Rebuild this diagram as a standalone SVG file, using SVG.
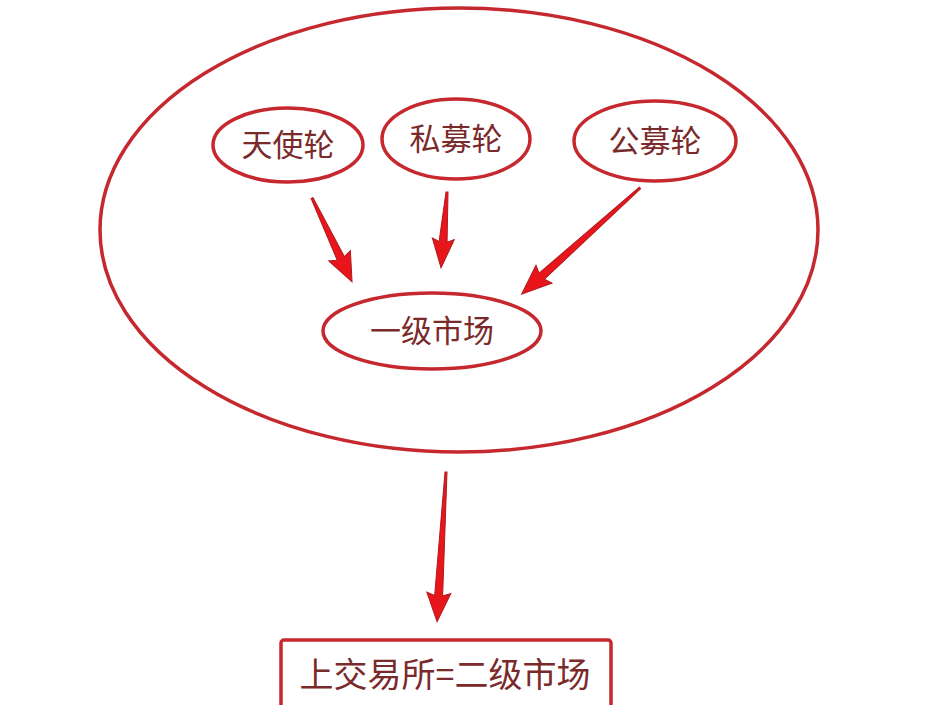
<svg xmlns="http://www.w3.org/2000/svg" width="949" height="705" viewBox="0 0 949 705">
<style>
.ell{fill:none;stroke:#c5282e;stroke-width:3.5}
.t{font-family:"Noto Sans CJK SC","Noto Sans",sans-serif;fill:#7a2a2a;text-anchor:middle}
.arr{fill:#e8151b;stroke:#b01a1e;stroke-width:1}
</style>
<rect width="949" height="705" fill="#ffffff"/>
<g id="outer"><ellipse class="ell" cx="459" cy="230" rx="359" ry="222"/></g>
<g id="n1"><ellipse class="ell" cx="288" cy="145" rx="75" ry="37"/><text class="t" x="288" y="156" font-size="31">天使轮</text></g>
<g id="n2"><ellipse class="ell" cx="456" cy="139" rx="74" ry="40"/><text class="t" x="456" y="150" font-size="31">私募轮</text></g>
<g id="n3"><ellipse class="ell" cx="655" cy="141" rx="81" ry="40"/><text class="t" x="655" y="152" font-size="31">公募轮</text></g>
<g id="n4"><ellipse class="ell" cx="432" cy="331" rx="109" ry="38"/><text class="t" x="432" y="342" font-size="31">一级市场</text></g>
<g id="n5"><rect x="281" y="640" width="330" height="75" rx="3" fill="#fff" stroke="#c5282e" stroke-width="3.5"/><text class="t" x="445" y="687" font-size="34">上交易所=二级市场</text></g>
<g id="connectors">
<path class="arr" transform="translate(312,198) rotate(64.5)" d="M0,-1 L67,-4 L64,-12 L93,0 L64,12 L67,4 L0,1 Z"/>
<path class="arr" transform="translate(447,192) rotate(94.5)" d="M0,-1 L50,-4 L47,-11 L76,0 L47,11 L50,4 L0,1 Z"/>
<path class="arr" transform="translate(640,188) rotate(138.1)" d="M0,-1 L132,-4 L129,-12 L159,0 L129,12 L132,4 L0,1 Z"/>
<path class="arr" transform="translate(446,472) rotate(93.4)" d="M0,-1 L124,-4 L121,-12 L150,0 L121,12 L124,4 L0,1 Z"/>
</g>
</svg>
